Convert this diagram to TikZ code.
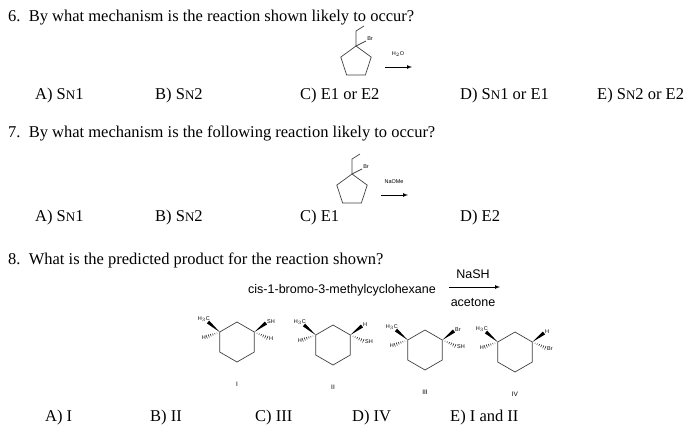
\documentclass[tikz,border=0pt]{standalone}
\usepackage{fontspec}
\setmainfont{Liberation Serif}
\newfontfamily\sansf{Liberation Sans}
\usetikzlibrary{calc}
\tikzset{txt/.style={anchor=west,inner sep=0pt,font=\fontsize{16.5}{19}\selectfont},
 bond/.style={line width=0.7pt,black!75},
 lab/.style={inner sep=0pt,font=\sansf\fontsize{5.5}{6}\selectfont},
 arr/.style={-latex,line width=0.7pt}}
\newcommand\SN[1]{S{\fontsize{13}{14}\selectfont N}#1}
\newcommand\wedgeb[2]{\fill ($(#1)$) -- ($(#2)!1.8pt!90:(#1)$) -- ($(#2)!1.8pt!-90:(#1)$) -- cycle;}
\newcommand\hashb[2]{\foreach \t [evaluate=\t as \w using \t*2] in {0.2,0.35,...,1.0}
  \draw[line width=0.45pt] ($(#1)!\t!(#2)!\w pt!90:(#2)$) -- ($(#1)!\t!(#2)!\w pt!-90:(#2)$);}
\newcommand\molec[5]{\begin{scope}[shift={(#1,#2)}]
 \draw[bond] (0,-20)--(17.3,-10)--(17.3,10)--(0,20)--(-17.3,10)--(-17.3,-10)--cycle;
 \coordinate (L) at (-17.3,-10); \coordinate (R) at (17.3,-10);
 \coordinate (L1) at (-29,-20); \coordinate (L2) at (-31,-5);
 \coordinate (R1) at (29,-19); \coordinate (R2) at (31,-4);
 \wedgeb{L}{L1} \hashb{L}{L2} \wedgeb{R}{R1} \hashb{R}{R2}
 \node[lab,anchor=south east] at (-27,-20) {H$_3$C};
 \node[lab,anchor=east] at (-31,-4) {H};
 \node[lab,anchor=west] at (30,-20) {#3};
 \node[lab,anchor=west] at (32,-3) {#4};
 \node[lab,font=\sansf\fontsize{6.5}{7}\selectfont] at (0,42) {#5};
\end{scope}}
\newcommand\cpent[3]{\begin{scope}[shift={(#1,#2)}]
 \draw[bond] (0,-16)--(15.2,-4.9)--(9.4,12.9)--(-9.4,12.9)--(-15.2,-4.9)--cycle;
 \draw[bond] (0,-16)--(0,-31)--(8,-36);
 \draw[bond] (0,-16)--(10,-21);
 \node[lab] at (14,-23) {Br};
 \draw[arr] (29,5)--(56,5);
 \node[lab] at (42,-8) {#3};
\end{scope}}
\begin{document}
\begin{tikzpicture}[x=1pt,y=-1pt]
\useasboundingbox (0,0) rectangle (700,436);
\node[txt] (q6) at (8,18) {6.\ \ By what mechanism is the reaction shown likely to occur?};
\cpent{356}{62}{H$_2$O}
\node[txt] (a6) at (35,96) {A) \SN1};
\node[txt] (b6) at (155,96) {B) \SN2};
\node[txt] (c6) at (300,96) {C) E1 or E2};
\node[txt] (d6) at (460,96) {D) \SN1 or E1};
\node[txt] (e6) at (597,96) {E) \SN2 or E2};
\node[txt] (q7) at (8,133) {7.\ \ By what mechanism is the following reaction likely to occur?};
\cpent{352}{190}{NaOMe}
\node[txt] (a7) at (35,218) {A) \SN1};
\node[txt] (b7) at (155,218) {B) \SN2};
\node[txt] (c7) at (300,218) {C) E1};
\node[txt] (d7) at (460,218) {D) E2};
\node[txt] (q8) at (8,260) {8.\ \ What is the predicted product for the reaction shown?};
\node[inner sep=0pt,font=\sansf\fontsize{12.5}{14}\selectfont] (name) at (342,290) {cis-1-bromo-3-methylcyclohexane};
\node[inner sep=0pt,font=\sansf\fontsize{12.5}{14}\selectfont] (nash) at (473,274) {NaSH};
\node[inner sep=0pt,font=\sansf\fontsize{12.5}{14}\selectfont] (acet) at (473,303) {acetone};
\coordinate (as) at (449,287); \coordinate (ae) at (500,287);
\draw[arr] (as)--(ae);
\molec{237}{342}{SH}{H}{I}
\molec{333}{345}{H}{SH}{II}
\molec{425}{350}{Br}{SH}{III}
\molec{515}{352}{H}{Br}{IV}
\node[txt] (a8) at (45,418) {A) I};
\node[txt] (b8) at (150,418) {B) II};
\node[txt] (c8) at (255,418) {C) III};
\node[txt] (d8) at (352,418) {D) IV};
\node[txt] (e8) at (450,418) {E) I and II};
\end{tikzpicture}
\end{document}
